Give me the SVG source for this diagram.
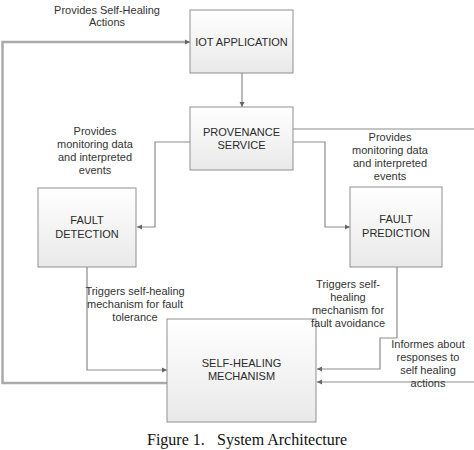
<svg xmlns="http://www.w3.org/2000/svg" width="474" height="450" viewBox="0 0 474 450">
<style>
.box{stroke:#8f8f8f;stroke-width:1;fill:url(#g)}
.bt{font-family:"Liberation Sans",Arial,sans-serif;font-size:11px;fill:#2a2a2a;text-anchor:middle}
.lt{font-family:"Liberation Sans",Arial,sans-serif;font-size:11px;fill:#333;text-anchor:middle}
.ln{fill:none;stroke:#8c8c8c;stroke-width:1.2}
.lp{fill:none;stroke:#aaaaaa;stroke-width:2.5}
.cap{font-family:"Liberation Serif","Times New Roman",serif;font-size:16px;fill:#111}
</style>
<defs>
<linearGradient id="g" x1="0" y1="0" x2="0" y2="1">
<stop offset="0" stop-color="#ffffff"/>
<stop offset="1" stop-color="#e9e9e9"/>
</linearGradient>
<marker id="a" markerWidth="6" markerHeight="6" refX="5" refY="3" orient="auto" markerUnits="userSpaceOnUse">
<path d="M0,0.5 L5,3 L0,5.5 Z" fill="#666"/>
</marker>
</defs>
<rect width="474" height="450" fill="#fff"/>
<g id="connectors">
<polyline class="lp" points="167,383 2.5,383 2.5,42 186,42"/>
<line class="ln" x1="186" y1="42" x2="190" y2="42" marker-end="url(#a)"/>
<line class="ln" x1="242" y1="73" x2="242" y2="107" marker-end="url(#a)"/>
<line class="ln" x1="293" y1="129" x2="474" y2="129"/>
<polyline class="ln" points="190,142 155,142 155,227 137,227" marker-end="url(#a)"/>
<polyline class="ln" points="293,142 325,142 325,227 350,227" marker-end="url(#a)"/>
<polyline class="ln" points="87,267 87,370 167,370" marker-end="url(#a)"/>
<polyline class="ln" points="397,267 397,338 380,338 380,369 317,369" marker-end="url(#a)"/>
<line class="ln" x1="474" y1="382" x2="317" y2="382" marker-end="url(#a)"/>
</g>
<g id="iot">
<rect class="box" x="190" y="10" width="103" height="63"/>
<text class="bt" x="241.5" y="46">IOT APPLICATION</text>
</g>
<g id="provenance">
<rect class="box" x="190" y="107" width="103" height="63"/>
<text class="bt" x="241.5" y="136">PROVENANCE</text>
<text class="bt" x="241.5" y="149">SERVICE</text>
</g>
<g id="fault-detection">
<rect class="box" x="38" y="188" width="98" height="79"/>
<text class="bt" x="87" y="224">FAULT</text>
<text class="bt" x="87" y="238">DETECTION</text>
</g>
<g id="fault-prediction">
<rect class="box" x="350" y="187" width="92" height="80"/>
<text class="bt" x="396" y="223">FAULT</text>
<text class="bt" x="396" y="237">PREDICTION</text>
</g>
<g id="self-healing">
<rect class="box" x="167" y="319" width="149" height="103"/>
<text class="bt" x="241.5" y="367">SELF-HEALING</text>
<text class="bt" x="241.5" y="380">MECHANISM</text>
</g>
<g id="labels">
<text class="lt" x="107" y="14">Provides Self-Healing</text>
<text class="lt" x="107" y="26">Actions</text>
<text class="lt" x="95" y="135">Provides</text>
<text class="lt" x="95" y="148">monitoring data</text>
<text class="lt" x="95" y="161">and interpreted</text>
<text class="lt" x="95" y="174">events</text>
<text class="lt" x="390" y="141">Provides</text>
<text class="lt" x="390" y="154">monitoring data</text>
<text class="lt" x="390" y="167">and interpreted</text>
<text class="lt" x="390" y="180">events</text>
<text class="lt" x="135" y="295">Triggers self-healing</text>
<text class="lt" x="135" y="308">mechanism for fault</text>
<text class="lt" x="135" y="321">tolerance</text>
<text class="lt" x="348" y="288">Triggers self-</text>
<text class="lt" x="348" y="301">healing</text>
<text class="lt" x="348" y="314">mechanism for</text>
<text class="lt" x="348" y="327">fault avoidance</text>
<text class="lt" x="428" y="348">Informes about</text>
<text class="lt" x="428" y="361">responses to</text>
<text class="lt" x="428" y="374">self healing</text>
<text class="lt" x="428" y="387">actions</text>
</g>
<text class="cap" x="147" y="445">Figure 1.<tspan x="217">System Architecture</tspan></text>
</svg>
